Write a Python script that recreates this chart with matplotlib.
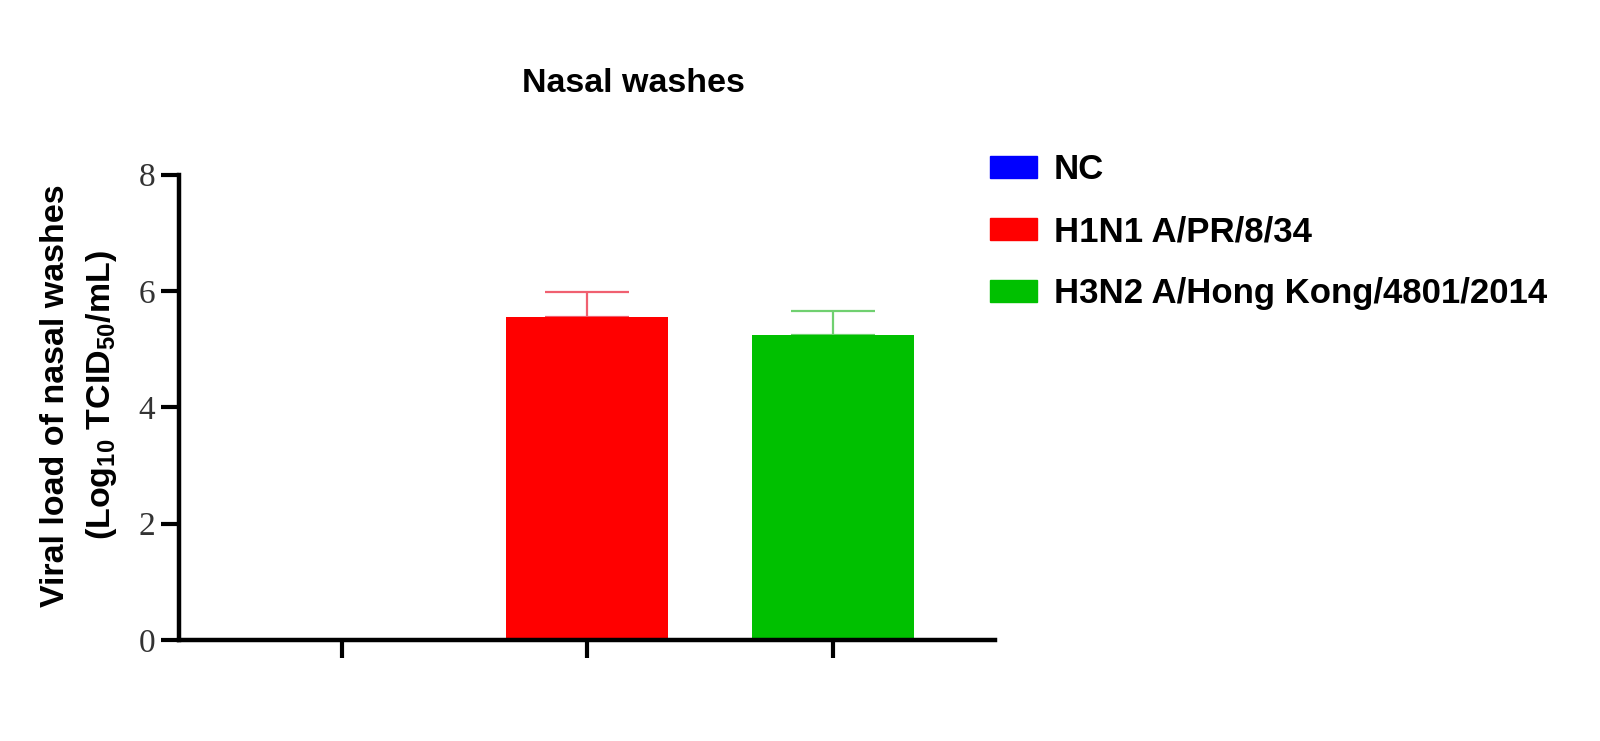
import matplotlib.pyplot as plt
from matplotlib.patches import Patch

groups = ['NC', 'H1N1 A/PR/8/34', 'H3N2 A/Hong Kong/4801/2014']
means = [0.0, 5.56, 5.25]
sd_upper = [0.0, 0.42, 0.40]
colors = ['#0000ff', '#ff0000', '#00c000']
err_colors = ['#6666ff', '#f06070', '#70d070']

plt.rcParams['font.family'] = ['Liberation Sans', 'DejaVu Sans']
plt.rcParams['mathtext.default'] = 'regular'

fig = plt.figure(figsize=(16, 7.41), dpi=100)
ax = fig.add_axes([0.1116, 0.1363, 0.510, 0.628])

x = list(range(len(groups)))
ax.bar(x, means, width=0.66, color=colors, zorder=2)
for xi, m, e, c in zip(x, means, sd_upper, err_colors):
    if m > 0:
        ax.errorbar(xi, m, yerr=[[0], [e]], color=c, capsize=30,
                    elinewidth=1.6, capthick=1.6, zorder=1)

ax.set_xlim(-0.667, 2.66)
ax.set_ylim(0, 8)
ax.set_yticks([0, 2, 4, 6, 8])
ax.set_xticks(x)
ax.set_xticklabels([])
for lab in ax.get_yticklabels():
    lab.set_fontfamily('Liberation Serif')
    lab.set_fontsize(24)
    lab.set_color('#333333')

for s in ['top', 'right']:
    ax.spines[s].set_visible(False)
for s in ['left', 'bottom']:
    ax.spines[s].set_linewidth(3.2)
ax.tick_params(axis='y', length=13, width=3, pad=4)
ax.tick_params(axis='x', length=13, width=3)

fig.text(633 / 1600, 1 - 83 / 741, 'Nasal washes', fontsize=24.5,
         fontweight='bold', ha='center', va='center')
ax.set_ylabel('Viral load of nasal washes\n(Log$_{10}$ TCID$_{50}$/mL)',
              fontsize=24.5, fontweight='bold', linespacing=1.5)
ax.yaxis.set_label_coords(-0.073, 0.526)

handles = [Patch(color=c) for c in colors]
fig.legend(handles, groups, loc='upper left', bbox_to_anchor=(990 / 1600, 1 - 153 / 741),
           frameon=False, prop={'weight': 'bold', 'size': 25}, borderpad=0,
           borderaxespad=0, handlelength=1.35, handleheight=0.58,
           labelspacing=0.84, handletextpad=0.49)

fig.savefig('out.png', dpi=100)
